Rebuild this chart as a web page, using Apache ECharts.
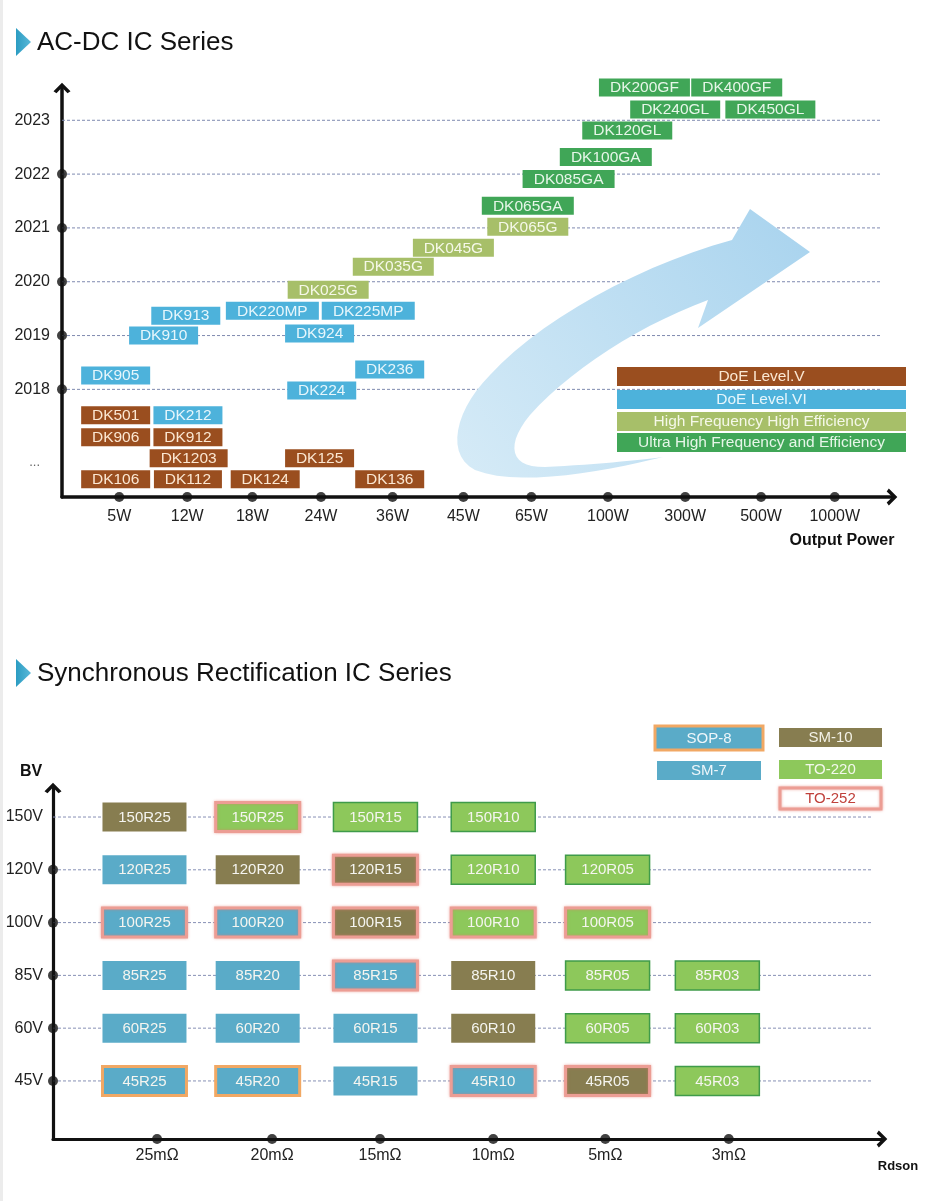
<!DOCTYPE html>
<html><head><meta charset="utf-8">
<script src="https://cdn.jsdelivr.net/npm/echarts@6/dist/echarts.min.js"></script>
<style>html,body{margin:0;padding:0;background:#fff}#c{width:934px;height:1201px}</style>
</head><body><div id="c"></div>
<script>
// ================= AC-DC IC Series data =================
const powerLabels = ['5W','12W','18W','24W','36W','45W','65W','100W','300W','500W','1000W'];
const powerTickPos = [0, 0.95, 1.86, 2.82, 3.82, 4.81, 5.76, 6.83, 7.91, 8.97, 10];
const yearTicks = [2018, 2019, 2020, 2021, 2022, 2023];
const yearDots = [2018, 2019, 2020, 2021, 2022];
const earlierMark = 2016.65;
const acdcCategories = ['DoE Level.V', 'DoE Level.VI', 'High Frequency High Efficiency', 'Ultra High Frequency and Efficiency'];
// [part, power position, year position, category index]
const acdcParts = [
  ['DK200GF', 7.34, 2023.61, 3],
  ['DK400GF', 8.63, 2023.61, 3],
  ['DK240GL', 7.77, 2023.20, 3],
  ['DK450GL', 9.10, 2023.20, 3],
  ['DK120GL', 7.10, 2022.81, 3],
  ['DK100GA', 6.80, 2022.32, 3],
  ['DK085GA', 6.28, 2021.91, 3],
  ['DK065GA', 5.71, 2021.41, 3],
  ['DK065G', 5.71, 2021.02, 2],
  ['DK045G', 4.67, 2020.63, 2],
  ['DK035G', 3.83, 2020.28, 2],
  ['DK025G', 2.92, 2019.85, 2],
  ['DK220MP', 2.14, 2019.46, 1],
  ['DK225MP', 3.48, 2019.46, 1],
  ['DK913', 0.93, 2019.37, 1],
  ['DK910', 0.62, 2019.00, 1],
  ['DK924', 2.80, 2019.04, 1],
  ['DK236', 3.78, 2018.37, 1],
  ['DK905', -0.05, 2018.26, 1],
  ['DK224', 2.83, 2017.98, 1],
  ['DK501', -0.05, 2017.52, 0],
  ['DK212', 0.96, 2017.52, 1],
  ['DK906', -0.05, 2017.11, 0],
  ['DK912', 0.96, 2017.11, 0],
  ['DK1203', 0.97, 2016.72, 0],
  ['DK125', 2.80, 2016.72, 0],
  ['DK106', -0.05, 2016.33, 0],
  ['DK112', 0.96, 2016.33, 0],
  ['DK124', 2.04, 2016.33, 0],
  ['DK136', 3.78, 2016.33, 0]
];

// ================= Synchronous Rectification data =================
const rdsonLabels = ['25mΩ','20mΩ','15mΩ','10mΩ','5mΩ','3mΩ'];
const rdsonTickPos = [0, 1.006, 1.95, 2.94, 3.92, 5.0];
const bvLabels = ['45V','60V','85V','100V','120V','150V'];
const bvDots = [0, 1, 2, 3, 4];
const srColumnX = [-0.11, 0.88, 1.91, 2.94, 3.94, 4.90];
const srPackages = ['SOP-8', 'SM-10', 'SM-7', 'TO-220', 'TO-252'];
// [part, column, BV row, package, second package]
const srParts = [
  ['150R25', 0, 5, 'SM-10', ''],
  ['150R25', 1, 5, 'TO-220', 'TO-252'],
  ['150R15', 2, 5, 'TO-220', ''],
  ['150R10', 3, 5, 'TO-220', ''],
  ['120R25', 0, 4, 'SM-7', ''],
  ['120R20', 1, 4, 'SM-10', ''],
  ['120R15', 2, 4, 'SM-10', 'TO-252'],
  ['120R10', 3, 4, 'TO-220', ''],
  ['120R05', 4, 4, 'TO-220', ''],
  ['100R25', 0, 3, 'SM-7', 'TO-252'],
  ['100R20', 1, 3, 'SM-7', 'TO-252'],
  ['100R15', 2, 3, 'SM-10', 'TO-252'],
  ['100R10', 3, 3, 'TO-220', 'TO-252'],
  ['100R05', 4, 3, 'TO-220', 'TO-252'],
  ['85R25', 0, 2, 'SM-7', ''],
  ['85R20', 1, 2, 'SM-7', ''],
  ['85R15', 2, 2, 'SM-7', 'TO-252'],
  ['85R10', 3, 2, 'SM-10', ''],
  ['85R05', 4, 2, 'TO-220', ''],
  ['85R03', 5, 2, 'TO-220', ''],
  ['60R25', 0, 1, 'SM-7', ''],
  ['60R20', 1, 1, 'SM-7', ''],
  ['60R15', 2, 1, 'SM-7', ''],
  ['60R10', 3, 1, 'SM-10', ''],
  ['60R05', 4, 1, 'TO-220', ''],
  ['60R03', 5, 1, 'TO-220', ''],
  ['45R25', 0, 0, 'SOP-8', ''],
  ['45R20', 1, 0, 'SOP-8', ''],
  ['45R15', 2, 0, 'SM-7', ''],
  ['45R10', 3, 0, 'SM-7', 'TO-252'],
  ['45R05', 4, 0, 'SM-10', 'TO-252'],
  ['45R03', 5, 0, 'TO-220', '']
];

// ================= styles =================
const FONT = '"Liberation Sans", Arial, Helvetica, sans-serif';
const catFill = ['#9a4e1f', '#4db2db', '#a7bf69', '#40a657'];
const catText = ['#fbe7d2', '#e6f6fc', '#f5f8e8', '#e6f6e8'];
const pkgFill = {'SOP-8': '#5aabc8', 'SM-7': '#5aabc8', 'SM-10': '#877d50', 'TO-220': '#8dc85b', 'TO-252': '#ffffff'};
const PINK = '#ec9d94', ORANGE = '#f1a864', DKGREEN = '#3f9b4a';
const chevron = 'path://M0,8 L8,0 L16,8 L13.2,10 L8,4.6 L2.8,10 Z';

const mctx = document.createElement('canvas').getContext('2d');
mctx.font = '15.5px ' + FONT;
const textW = t => mctx.measureText(t).width;

function findLabel(v, pos, labels) {
  for (let i = 0; i < pos.length; i++) if (Math.abs(pos[i] - v) < 1e-6) return labels[i];
  return '';
}

// sample a chain of cubic beziers into polygon points (decorative swoosh)
function bezierChain(start, segs, n) {
  const pts = [start];
  let p0 = start;
  segs.forEach(s => {
    const [c1, c2, p3] = s;
    for (let i = 1; i <= n; i++) {
      const t = i / n, u = 1 - t;
      pts.push([
        u*u*u*p0[0] + 3*u*u*t*c1[0] + 3*u*t*t*c2[0] + t*t*t*p3[0],
        u*u*u*p0[1] + 3*u*u*t*c1[1] + 3*u*t*t*c2[1] + t*t*t*p3[1]
      ]);
    }
    p0 = p3;
  });
  return pts;
}

const chart = echarts.init(document.getElementById('c'), null, {renderer: 'canvas'});

const axisLineStyle = {color: '#111', width: 3.5};

function txt(text, x, y, font, fill, align) {
  return {type: 'text', z: 10, style: {text: text, x: x, y: y, font: font, fill: fill,
    align: align || 'center', verticalAlign: 'middle', textAlign: align || 'center', textVerticalAlign: 'middle'}};
}

function buildGraphic() {
  const g = [];
  g.push({type: 'rect', z: 0, shape: {x: 0, y: 0, width: 3, height: 1201}, style: {fill: '#ececec'}});
  const tri = (y) => ({type: 'polygon', z: 10, shape: {points: [[16, y - 14], [31, y], [16, y + 14]]},
    style: {fill: new echarts.graphic.LinearGradient(0, 0, 1, 0, [{offset: 0, color: '#2b9cc2'}, {offset: 1, color: '#5ab9d9'}])}});
  g.push(tri(42));
  g.push(txt('AC-DC IC Series', 37, 43, '26px ' + FONT, '#111', 'left'));
  g.push(tri(673));
  g.push(txt('Synchronous Rectification IC Series', 37, 674, '26px ' + FONT, '#111', 'left'));
  // swoosh arrow
  const head = [[732, 240], [750, 209], [810, 252], [698, 328]];
  const body = bezierChain([708, 300], [
    [[640, 325], [570, 370], [530, 415]],
    [[505, 445], [510, 468], [545, 467]],
    [[590, 465], [640, 460], [663, 457]],
    [[610, 470], [520, 488], [475, 470]],
    [[445, 455], [455, 410], [490, 375]],
    [[540, 320], [640, 265], [732, 240]]
  ], 14);
  g.push({type: 'polygon', z: 3, shape: {points: head.concat(body)},
    style: {fill: new echarts.graphic.LinearGradient(0, 1, 1, 0, [{offset: 0, color: '#d6ebf7'}, {offset: 1, color: '#a8d3ee'}])}});
  // AC-DC legend
  const ly = [367, 390, 412, 433];
  acdcCategories.forEach((name, i) => {
    g.push({type: 'rect', z: 8, shape: {x: 617, y: ly[i], width: 289, height: 19}, style: {fill: catFill[i]}});
    g.push(txt(name, 761.5, ly[i] + 10, '15.5px ' + FONT, catText[i]));
  });
  g.push(txt('Output Power', 842, 541, 'bold 16px ' + FONT, '#111'));
  g.push(txt('BV', 31, 772, 'bold 16px ' + FONT, '#111'));
  g.push(txt('Rdson', 898, 1166, 'bold 13px ' + FONT, '#111'));
  const pl = {
    'SOP-8': {x: 655, y: 726, w: 108, h: 24, stroke: ORANGE, lw: 3, tc: '#eef6fa'},
    'SM-10': {x: 779, y: 728, w: 103, h: 19, tc: '#f3f1e6'},
    'SM-7': {x: 657, y: 761, w: 104, h: 19, tc: '#eef6fa'},
    'TO-220': {x: 779, y: 760, w: 103, h: 19, tc: '#f3f8ec'},
    'TO-252': {x: 780, y: 788, w: 101, h: 21, stroke: PINK, lw: 3, tc: '#c0403a'}
  };
  srPackages.forEach(name => {
    const s = pl[name];
    const st = {fill: pkgFill[name]};
    if (s.stroke) Object.assign(st, {stroke: s.stroke, lineWidth: s.lw, shadowBlur: name === 'TO-252' ? 3 : 0, shadowColor: 'rgba(230,120,110,0.6)'});
    g.push({type: 'rect', z: 8, shape: {x: s.x, y: s.y, width: s.w, height: s.h}, style: st});
    g.push(txt(name, s.x + s.w / 2, s.y + s.h / 2 + 0.5, '15px ' + FONT, s.tc));
  });
  return g;
}

const option = {
  animation: false,
  backgroundColor: '#ffffff',
  textStyle: {fontFamily: FONT},
  grid: [
    {left: 62, top: 88, width: 830, height: 409, containLabel: false},
    {left: 53, top: 788, width: 829, height: 351, containLabel: false}
  ],
  xAxis: [
    {
      gridIndex: 0, type: 'value', min: -0.8, max: 10.8,
      axisLine: {show: true, onZero: false, lineStyle: axisLineStyle, symbol: ['none', chevron], symbolSize: [17, 11]},
      axisTick: {show: false}, splitLine: {show: false},
      axisLabel: {customValues: powerTickPos, margin: 12, color: '#222', fontSize: 16,
        formatter: v => findLabel(v, powerTickPos, powerLabels)}
    },
    {
      gridIndex: 1, type: 'value', min: -0.91, max: 6.34,
      axisLine: {show: true, onZero: false, lineStyle: {color: '#111', width: 3.2}, symbol: ['none', chevron], symbolSize: [17, 11]},
      axisTick: {show: false}, splitLine: {show: false},
      axisLabel: {customValues: rdsonTickPos, margin: 9, color: '#222', fontSize: 16,
        formatter: v => findLabel(v, rdsonTickPos, rdsonLabels)}
    }
  ],
  yAxis: [
    {
      gridIndex: 0, type: 'value', min: 2016, max: 2023.6,
      axisLine: {show: true, onZero: false, lineStyle: axisLineStyle, symbol: ['none', chevron], symbolSize: [17, 11]},
      axisTick: {show: false}, splitLine: {show: false},
      axisLabel: {customValues: [earlierMark].concat(yearTicks), margin: 12, color: '#222', fontSize: 16,
        formatter: v => v < 2017 ? '{d|...}' : String(Math.round(v)),
        rich: {d: {color: '#666', fontSize: 13, padding: [0, 10, 0, 0]}}}
    },
    {
      gridIndex: 1, type: 'value', min: -1.1, max: 5.55,
      axisLine: {show: true, onZero: false, lineStyle: {color: '#111', width: 3.2}, symbol: ['none', chevron], symbolSize: [17, 11]},
      axisTick: {show: false}, splitLine: {show: false},
      axisLabel: {customValues: [0, 1, 2, 3, 4, 5], margin: 10, color: '#222', fontSize: 16,
        formatter: v => bvLabels[Math.round(v)]}
    }
  ],
  series: [
    {
      type: 'custom', xAxisIndex: 0, yAxisIndex: 0, z: 1, silent: true,
      dimensions: ['x', 'y'], encode: {x: 0, y: 1},
      data: yearTicks.map(y => [-0.8, y]),
      renderItem: (params, api) => {
        const a = api.coord([api.value(0), api.value(1)]);
        const b = api.coord([10.66, api.value(1)]);
        return {type: 'line', shape: {x1: a[0], y1: a[1], x2: b[0], y2: b[1]},
          style: {stroke: '#7f8ab0', lineWidth: 1, lineDash: [3, 2]}};
      }
    },
    {
      type: 'custom', xAxisIndex: 0, yAxisIndex: 0, z: 5, silent: true,
      dimensions: ['x', 'y', 'c'], encode: {x: 0, y: 1},
      data: acdcParts.map(p => [p[1], p[2], p[3]]),
      renderItem: (params, api) => {
        const c = api.coord([api.value(0), api.value(1)]);
        const cat = api.value(2);
        const name = acdcParts[params.dataIndex][0];
        const w = Math.round(textW(name) + 22), h = 18;
        return {type: 'group', children: [
          {type: 'rect', shape: {x: c[0] - w / 2, y: c[1] - h / 2, width: w, height: h}, style: {fill: catFill[cat]}},
          {type: 'text', style: {text: name, x: c[0], y: c[1] + 0.5, fill: catText[cat], font: '15.5px ' + FONT,
            align: 'center', verticalAlign: 'middle', textAlign: 'center', textVerticalAlign: 'middle'}}
        ]};
      }
    },
    {
      type: 'scatter', xAxisIndex: 0, yAxisIndex: 0, z: 6, clip: false, silent: true,
      symbolSize: 10, itemStyle: {color: '#111'},
      data: powerTickPos.map(v => [v, 2016]).concat(yearDots.map(y => [-0.8, y]))
    },
    {
      type: 'custom', xAxisIndex: 1, yAxisIndex: 1, z: 1, silent: true,
      dimensions: ['x', 'y'], encode: {x: 0, y: 1},
      data: bvLabels.map((l, i) => [-0.91, i]),
      renderItem: (params, api) => {
        const a = api.coord([api.value(0), api.value(1)]);
        const b = api.coord([6.25, api.value(1)]);
        return {type: 'line', shape: {x1: a[0], y1: a[1], x2: b[0], y2: b[1]},
          style: {stroke: '#8790b5', lineWidth: 1, lineDash: [3, 2]}};
      }
    },
    {
      type: 'custom', xAxisIndex: 1, yAxisIndex: 1, z: 5, silent: true,
      dimensions: ['x', 'y'], encode: {x: 0, y: 1},
      data: srParts.map(p => [srColumnX[p[1]], p[2]]),
      renderItem: (params, api) => {
        const c = api.coord([api.value(0), api.value(1)]);
        const p = srParts[params.dataIndex];
        const w = 84, h = 29;
        const style = {fill: pkgFill[p[3]]};
        if (p[4] === 'TO-252') {
          Object.assign(style, {stroke: PINK, lineWidth: 3, shadowBlur: 3, shadowColor: 'rgba(230,120,110,0.6)'});
        } else if (p[3] === 'SOP-8') {
          Object.assign(style, {stroke: ORANGE, lineWidth: 3});
        } else if (p[3] === 'TO-220') {
          Object.assign(style, {stroke: DKGREEN, lineWidth: 1.5});
        }
        return {type: 'group', children: [
          {type: 'rect', shape: {x: c[0] - w / 2, y: c[1] - h / 2, width: w, height: h}, style: style},
          {type: 'text', style: {text: p[0], x: c[0], y: c[1] + 0.5, fill: '#f5f5f0', font: '15px ' + FONT,
            align: 'center', verticalAlign: 'middle', textAlign: 'center', textVerticalAlign: 'middle'}}
        ]};
      }
    },
    {
      type: 'scatter', xAxisIndex: 1, yAxisIndex: 1, z: 6, clip: false, silent: true,
      symbolSize: 10, itemStyle: {color: '#111'},
      data: rdsonTickPos.map(v => [v, -1.1]).concat(bvDots.map(i => [-0.91, i]))
    }
  ],
  graphic: buildGraphic()
};

chart.setOption(option);
</script>
</body></html>
